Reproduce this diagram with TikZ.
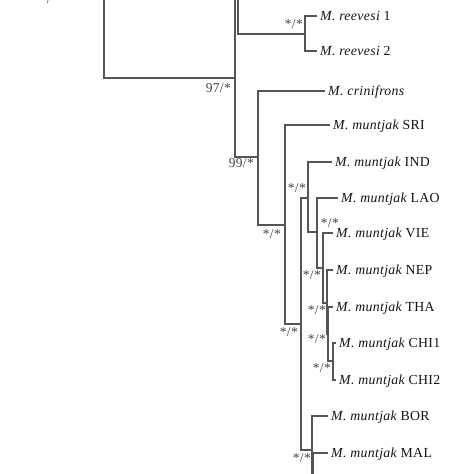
\documentclass[tikz,border=0pt]{standalone}
\usepackage{fontspec}
\setmainfont{Liberation Serif}
\newfontfamily\taxfont[LetterSpace=2.5]{Liberation Serif}
\definecolor{linegray}{HTML}{555555}
\definecolor{supgray}{HTML}{444444}
\begin{document}
\begin{tikzpicture}[x=1pt,y=-1pt,
  br/.style={draw=linegray,line width=1.2pt},
  leaf/.style={anchor=west,inner xsep=3pt,inner ysep=0pt,text height=9.5pt,text depth=0pt,
    font=\taxfont\fontsize{13.8}{14}\selectfont,text=black!92},
  supp/.style={anchor=east,inner sep=0pt,text height=9pt,text depth=0pt,
    font=\taxfont\fontsize{13.5}{14}\selectfont,text=supgray}]
\useasboundingbox[fill=white] (0,0) rectangle (474,474);
% internal nodes
\coordinate (nA) at (104,-12);
\coordinate (nB) at (235,78);
\coordinate (nC) at (238,-12);
\coordinate (nR) at (305,34);
\coordinate (nD) at (258,157);
\coordinate (nE) at (285,225);
\coordinate (nF) at (301,324);
\coordinate (nG) at (308,198);
\coordinate (nH) at (317,232);
\coordinate (nI) at (323,268);
\coordinate (nJ) at (327,303);
\coordinate (nK) at (328,334);
\coordinate (nL) at (333,361);
\coordinate (nM) at (312,450);
\coordinate (nN) at (313.5,485);
\coordinate (nNlow) at (313.5,500);
% leaves
\node[leaf] (reev1) at (317,16) {{\itshape M. reevesi} 1};
\node[leaf] (reev2) at (317,51) {{\itshape M. reevesi} 2};
\node[leaf] (crin) at (325,91) {{\itshape M. crinifrons}};
\node[leaf] (sri) at (330,125) {{\itshape M. muntjak} SRI};
\node[leaf] (ind) at (332,162) {{\itshape M. muntjak} IND};
\node[leaf] (lao) at (338,198) {{\itshape M. muntjak} LAO};
\node[leaf] (vie) at (333,233) {{\itshape M. muntjak} VIE};
\node[leaf] (nep) at (333,270) {{\itshape M. muntjak} NEP};
\node[leaf] (tha) at (333,307) {{\itshape M. muntjak} THA};
\node[leaf] (chi1) at (336,343) {{\itshape M. muntjak} CHI1};
\node[leaf] (chi2) at (336,380) {{\itshape M. muntjak} CHI2};
\node[leaf] (bor) at (328,416) {{\itshape M. muntjak} BOR};
\node[leaf] (mal) at (328,453) {{\itshape M. muntjak} MAL};
% branches
\draw[br] (nA) |- (nB);
\draw[br] (nB) |- (nC);
\draw[br] (nB) |- (nD);
\draw[br] (nC) |- (nR);
\draw[br] (nR) |- (reev1.west);
\draw[br] (nR) |- (reev2.west);
\draw[br] (nD) |- (crin.west);
\draw[br] (nD) |- (nE);
\draw[br] (nE) |- (sri.west);
\draw[br] (nE) |- (nF);
\draw[br] (nF) |- (nG);
\draw[br] (nF) |- (nM);
\draw[br] (nG) |- (ind.west);
\draw[br] (nG) |- (nH);
\draw[br] (nH) |- (lao.west);
\draw[br] (nH) |- (nI);
\draw[br] (nI) |- (vie.west);
\draw[br] (nI) |- (nJ);
\draw[br] (nJ) |- (nep.west);
\draw[br] (nJ) |- (nK);
\draw[br] (nK) |- (tha.west);
\draw[br] (nK) |- (nL);
\draw[br] (nL) |- (chi1.west);
\draw[br] (nL) |- (chi2.west);
\draw[br] (nM) |- (bor.west);
\draw[br] (nM) |- (nN);
\draw[br] (nN) |- (mal.west);
\draw[br] (nN) -- (nNlow);
% support values
\node[supp] (stop) at (58,-1) {*/*};
\node[supp] (sR) at (303,24) {*/*};
\node[supp] (sB) at (231,88) {97/*};
\node[supp] (sD) at (254,163) {99/*};
\node[supp] (sE) at (281,234) {*/*};
\node[supp] (sG) at (306,188) {*/*};
\node[supp] (sH) at (339,223) {*/*};
\node[supp] (sF) at (298,332) {*/*};
\node[supp] (sI) at (321,275) {*/*};
\node[supp] (sJ) at (326,310) {*/*};
\node[supp] (sK) at (326,339) {*/*};
\node[supp] (sL) at (331,368) {*/*};
\node[supp] (sM) at (311,458) {*/*};
\end{tikzpicture}
\end{document}
